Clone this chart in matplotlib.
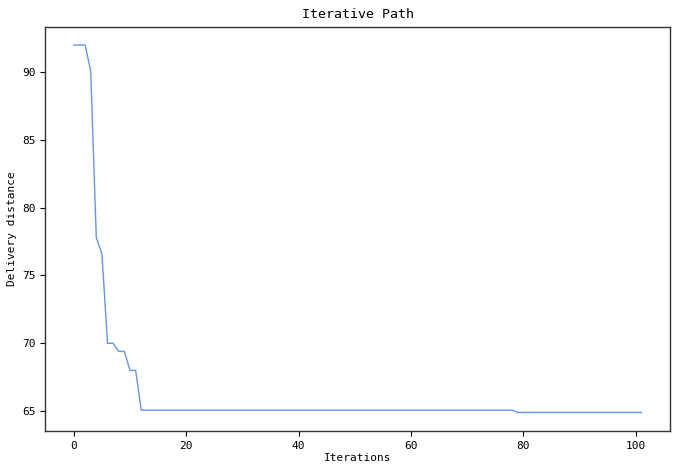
import numpy as np
import matplotlib
matplotlib.use('Agg')
import matplotlib.pyplot as plt

plt.rcParams['font.family'] = ['DejaVu Sans Mono']

# best delivery distance found at each iteration
iters = np.arange(102)
dist = [92.0, 92.0, 92.0, 90.1, 77.8, 76.6, 70.0, 70.0, 69.4, 69.4, 68.0, 68.0] \
    + [65.07] * 67 + [64.9] * 23

fig = plt.figure(figsize=(6.78, 4.75), dpi=100)
ax = fig.add_axes([0.067, 0.093, 0.921, 0.851])
ax.plot(iters, dist, color='cornflowerblue', linewidth=1)

ax.set_title('Iterative Path', fontsize=9.5)
ax.set_xlabel('Iterations', fontsize=8, labelpad=2)
ax.set_ylabel('Delivery distance', fontsize=8)
ax.tick_params(labelsize=8)
for s in ax.spines.values():
    s.set_linewidth(1.0)
    s.set_color('#333333')

plt.savefig('out.png', dpi=100)
